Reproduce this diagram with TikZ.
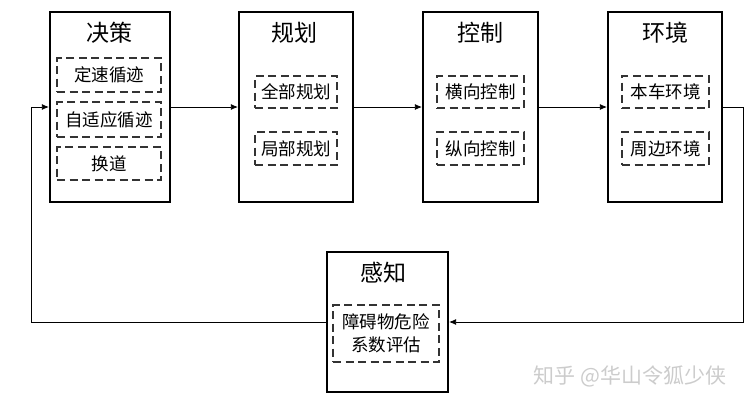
\documentclass[tikz,border=0pt]{standalone}
\usepackage{fontspec}
\setmainfont{Noto Sans CJK SC}
\usetikzlibrary{arrows.meta}
\begin{document}
\begin{tikzpicture}[x=1pt,y=-1pt,
  mainbox/.style={draw=black,line width=2.2pt,minimum height=190pt,inner sep=0pt},
  subbox/.style={draw=black!80,line width=1.4pt,dash pattern=on 8pt off 4.5pt,inner sep=0pt,font=\fontsize{17.5}{20}\selectfont},
  titletext/.style={font=\fontsize{23}{26}\selectfont,inner sep=0pt},
  conn/.style={draw=black,line width=0.8pt},
  arr/.style={conn,-{Latex[length=7pt,width=6pt]}}]
\useasboundingbox (0,0) rectangle (749,407);
% main boxes
\node[mainbox,minimum width=120pt] (jc) at (110,107) {};
\node[mainbox,minimum width=114pt] (gh) at (296,107) {};
\node[mainbox,minimum width=115pt] (kz) at (480.5,107) {};
\node[mainbox,minimum width=114pt] (hj) at (665,107) {};
\node[mainbox,minimum width=121pt,minimum height=140pt] (gz) at (387.5,322) {};
% titles
\node[titletext] (t1) at (109,33) {决策};
\node[titletext] (t2) at (294,33) {规划};
\node[titletext] (t3) at (480,33) {控制};
\node[titletext] (t4) at (665,33) {环境};
\node[titletext] (t5) at (383,273) {感知};
% sub boxes
\node[subbox,minimum width=104pt,minimum height=34pt] (s11) at (109,75) {定速循迹};
\node[subbox,minimum width=104pt,minimum height=35pt] (s12) at (109,119.5) {自适应循迹};
\node[subbox,minimum width=104pt,minimum height=33pt] (s13) at (109,163.5) {换道};
\node[subbox,minimum width=82pt,minimum height=32pt] (s21) at (296,92) {全部规划};
\node[subbox,minimum width=82pt,minimum height=33pt] (s22) at (296,148.5) {局部规划};
\node[subbox,minimum width=87pt,minimum height=32pt] (s31) at (480.5,92) {横向控制};
\node[subbox,minimum width=87pt,minimum height=33pt] (s32) at (480.5,148.5) {纵向控制};
\node[subbox,minimum width=87pt,minimum height=32pt] (s41) at (665.5,92) {本车环境};
\node[subbox,minimum width=87pt,minimum height=33pt] (s42) at (665.5,148.5) {周边环境};
\node[subbox,minimum width=106pt,minimum height=57pt,align=center,font=\fontsize{17.5}{23}\selectfont] (s51) at (386,333.5) {障碍物危险\\系数评估};
% connectors
\draw[arr] (jc.east) -- (gh.west);
\draw[arr] (gh.east) -- (kz.west);
\draw[arr] (kz.east) -- (hj.west);
\coordinate (r1) at (743,107);
\coordinate (r2) at (743,322);
\coordinate (l1) at (31,322);
\coordinate (l2) at (31,107);
\draw[arr] (hj.east) -- (r1) -- (r2) -- (gz.east);
\draw[arr] (gz.west) -- (l1) -- (l2) -- (jc.west);
% watermark
\node[font=\fontsize{21}{24}\selectfont,text=black!20,inner sep=0pt] (wm) at (630,376) {知乎 @华山令狐少侠};
\end{tikzpicture}
\end{document}
